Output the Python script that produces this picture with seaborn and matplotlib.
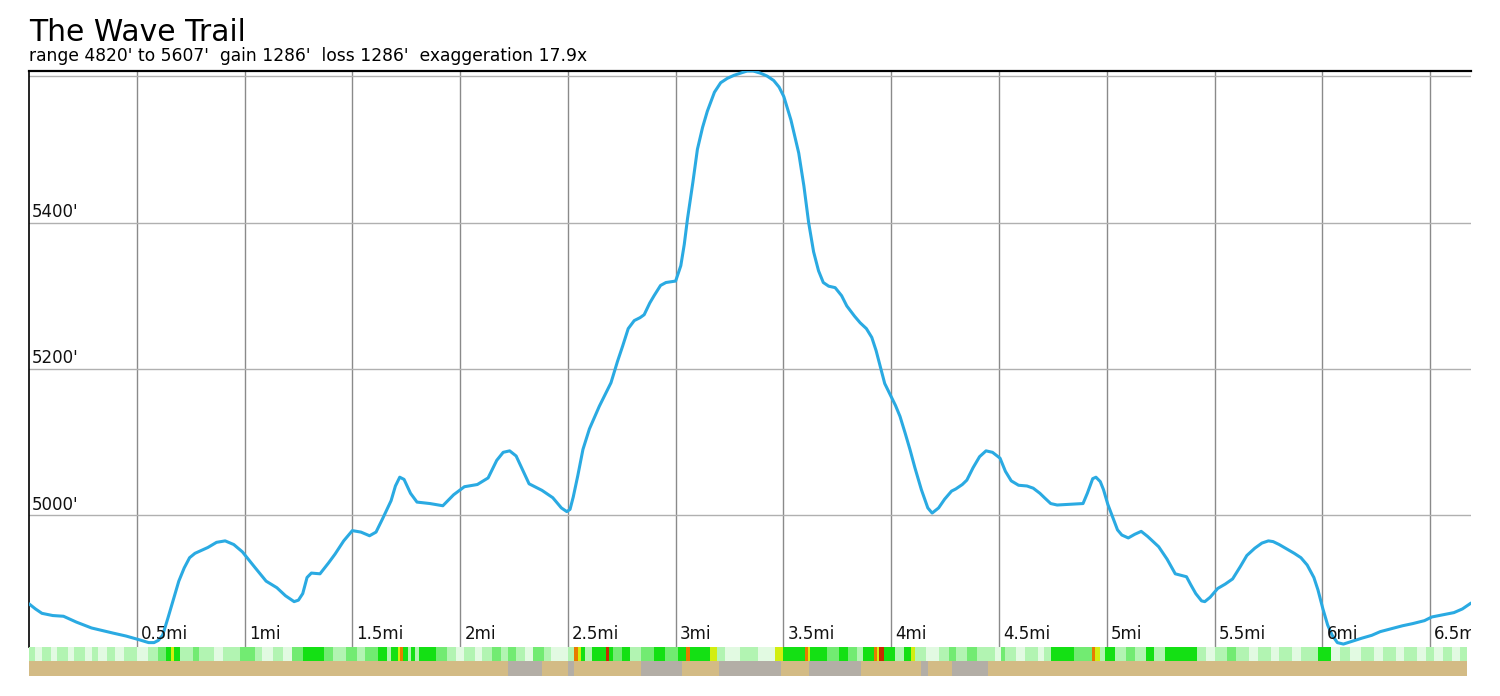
import numpy as np
import pandas as pd
import matplotlib
matplotlib.use("Agg")
import matplotlib.pyplot as plt
import matplotlib.transforms as mtransforms
import seaborn as sns

sns.set_style("white")
plt.rcParams['font.family'] = ['DejaVu Sans']

# elevation profile (miles, feet)
miles = [0.00, 0.03, 0.06, 0.11, 0.16, 0.22, 0.29, 0.39, 0.45, 0.51, 0.555, 0.58, 0.60,
         0.62, 0.645, 0.67, 0.695, 0.72, 0.745, 0.77, 0.80, 0.83, 0.87, 0.91, 0.95, 0.99,
         1.05, 1.10, 1.15, 1.19, 1.23, 1.25, 1.27, 1.29, 1.31, 1.35, 1.39, 1.42, 1.46,
         1.50, 1.54, 1.58, 1.61, 1.64, 1.68, 1.70, 1.72, 1.74, 1.77, 1.80, 1.86, 1.92,
         1.97, 2.02, 2.08, 2.13, 2.17, 2.20, 2.23, 2.26, 2.29, 2.32, 2.38, 2.43, 2.47,
         2.495, 2.51, 2.525, 2.546, 2.57, 2.60, 2.646, 2.70, 2.73, 2.754, 2.78, 2.808,
         2.835, 2.854, 2.88, 2.90, 2.93, 2.955, 3.00, 3.024, 3.04, 3.055, 3.08, 3.101,
         3.125, 3.147, 3.18, 3.209, 3.24, 3.27, 3.30, 3.332, 3.36, 3.394, 3.425, 3.455,
         3.48, 3.502, 3.535, 3.571, 3.595, 3.617, 3.64, 3.663, 3.685, 3.71, 3.74, 3.77,
         3.794, 3.83, 3.856, 3.885, 3.91, 3.93, 3.948, 3.97, 3.995, 4.02, 4.041, 4.065,
         4.087, 4.11, 4.14, 4.17, 4.19, 4.22, 4.248, 4.28, 4.30, 4.33, 4.351, 4.38,
         4.41, 4.44, 4.47, 4.505, 4.53, 4.557, 4.591, 4.63, 4.659, 4.69, 4.711, 4.74,
         4.77, 4.83, 4.89, 4.91, 4.935, 4.95, 4.97, 4.985, 5.005, 5.027, 5.05, 5.07,
         5.10, 5.13, 5.16, 5.19, 5.241, 5.28, 5.318, 5.345, 5.37, 5.39, 5.413, 5.44,
         5.455, 5.48, 5.515, 5.55, 5.584, 5.62, 5.65, 5.687, 5.72, 5.75, 5.772, 5.80,
         5.841, 5.87, 5.901, 5.93, 5.961, 5.98, 6.003, 6.025, 6.046, 6.07, 6.098, 6.14,
         6.183, 6.23, 6.269, 6.32, 6.372, 6.42, 6.474, 6.508, 6.56, 6.611, 6.65, 6.69]
elev = [4879, 4872, 4866, 4863, 4862, 4854, 4846, 4839, 4835, 4830, 4826, 4826, 4829,
        4836, 4860, 4885, 4910, 4928, 4942, 4948, 4952, 4956, 4963, 4965, 4960, 4950,
        4928, 4910, 4901, 4890, 4882, 4884, 4893, 4915, 4921, 4920, 4935, 4947, 4965,
        4979, 4977, 4972, 4977, 4995, 5020, 5040, 5052, 5049, 5030, 5018, 5016, 5013,
        5028, 5039, 5042, 5051, 5075, 5086, 5088, 5081, 5062, 5043, 5034, 5024, 5010,
        5005, 5008, 5025, 5054, 5090, 5118, 5149, 5181, 5210, 5231, 5255, 5266,
        5270, 5274, 5290, 5300, 5314, 5318, 5320, 5341, 5370, 5405, 5455, 5500,
        5530, 5552, 5578, 5591, 5597, 5601, 5604, 5607, 5607, 5604, 5600, 5594,
        5585, 5572, 5540, 5495, 5450, 5400, 5360, 5334, 5318, 5313, 5311, 5300,
        5286, 5272, 5263, 5255, 5243, 5225, 5205, 5180, 5165, 5150, 5135, 5112,
        5090, 5065, 5035, 5010, 5003, 5010, 5022, 5033, 5036, 5042, 5048, 5065,
        5080, 5088, 5086, 5078, 5060, 5047, 5041, 5040, 5037, 5030, 5024, 5016,
        5014, 5015, 5016, 5030, 5050, 5052, 5046, 5035, 5015, 4998, 4980, 4973,
        4969, 4974, 4978, 4971, 4957, 4940, 4920, 4918, 4916, 4905, 4893, 4883,
        4882, 4888, 4900, 4906, 4913, 4930, 4945, 4955, 4962, 4965, 4964, 4960,
        4953, 4948, 4942, 4932, 4915, 4898, 4872, 4850, 4836, 4826, 4824, 4828,
        4832, 4836, 4841, 4845, 4849, 4852, 4856, 4861, 4864, 4867, 4872, 4880]

# slope strip: run starts (miles) and grade level 0 (flat) .. 6 (steep)
slope_start = [0.00, 0.03, 0.06, 0.10, 0.13, 0.18, 0.21, 0.26, 0.29, 0.32, 0.36, 0.40,
               0.44, 0.50, 0.55, 0.60, 0.635, 0.66, 0.675, 0.70, 0.76, 0.79, 0.86, 0.90,
               0.98, 1.05, 1.08, 1.13, 1.18, 1.22, 1.27, 1.37, 1.41, 1.47, 1.52, 1.56,
               1.62, 1.66, 1.68, 1.71, 1.72, 1.735, 1.76, 1.77, 1.79, 1.81, 1.89, 1.94,
               1.98, 2.02, 2.07, 2.10, 2.15, 2.19, 2.22, 2.26, 2.30, 2.34, 2.39, 2.42,
               2.50, 2.53, 2.545, 2.56, 2.58, 2.61, 2.675, 2.69, 2.71, 2.75, 2.79, 2.84,
               2.90, 2.95, 3.01, 3.05, 3.065, 3.16, 3.19, 3.23, 3.30, 3.38, 3.46, 3.50,
               3.60, 3.615, 3.625, 3.70, 3.76, 3.80, 3.84, 3.87, 3.92, 3.935, 3.945,
               3.965, 4.02, 4.06, 4.09, 4.11, 4.16, 4.22, 4.27, 4.30, 4.35, 4.40, 4.48,
               4.51, 4.53, 4.58, 4.62, 4.68, 4.71, 4.74, 4.85, 4.93, 4.945, 4.97, 4.99,
               5.04, 5.09, 5.13, 5.18, 5.22, 5.27, 5.42, 5.46, 5.50, 5.56, 5.60, 5.66,
               5.70, 5.76, 5.80, 5.86, 5.90, 5.98, 6.04, 6.08, 6.13, 6.18, 6.24, 6.28,
               6.34, 6.38, 6.44, 6.48, 6.52, 6.56, 6.60, 6.64]
slope_level = [1, 0, 1, 0, 1, 0, 1, 0, 1, 0, 1, 0,
               1, 0, 1, 2, 3, 4, 3, 1, 2, 1, 0, 1,
               2, 1, 0, 1, 0, 2, 3, 2, 1, 2, 1, 2,
               3, 1, 3, 4, 5, 3, 1, 3, 1, 3, 2, 1,
               0, 1, 0, 1, 2, 1, 2, 1, 0, 2, 1, 0,
               1, 5, 4, 3, 1, 3, 6, 3, 2, 3, 1, 2,
               3, 2, 3, 5, 3, 4, 1, 0, 1, 0, 4, 3,
               5, 4, 3, 2, 3, 2, 1, 3, 5, 4, 6,
               3, 1, 3, 4, 1, 0, 1, 2, 1, 2, 1, 0,
               2, 1, 0, 1, 0, 1, 3, 2, 5, 4, 1, 3,
               1, 2, 1, 3, 1, 3, 1, 0, 1, 2, 1, 0,
               1, 0, 1, 0, 1, 3, 0, 1, 0, 1, 0, 1,
               0, 1, 0, 1, 0, 1, 0, 1]
strip_end = 6.67
level_colors = ['#e2fae2', '#b2f4b2', '#72eb72', '#14e014', '#d2ee10', '#e87a00', '#c82a00']

# surface strip
surface_start = [0.00, 2.22, 2.38, 2.50, 2.53, 2.84, 3.03, 3.20, 3.49, 3.62, 3.86, 4.14,
                 4.17, 4.28, 4.45]
surface_kind = ['dirt', 'rock', 'dirt', 'rock', 'dirt', 'rock', 'dirt', 'rock', 'dirt',
                'rock', 'dirt', 'rock', 'dirt', 'rock', 'dirt']
surface_colors = {'dirt': '#d3bb85', 'rock': '#b3aea6'}

x_ticks = [0.5, 1, 1.5, 2, 2.5, 3, 3.5, 4, 4.5, 5, 5.5, 6, 6.5]
x_labels = ['0.5mi', '1mi', '1.5mi', '2mi', '2.5mi', '3mi', '3.5mi', '4mi',
            '4.5mi', '5mi', '5.5mi', '6mi', '6.5mi']
y_grid = [5000, 5200, 5400, 5600]
y_labels = ["5000'", "5200'", "5400'", ""]

W, H = 1500, 696
fig = plt.figure(figsize=(W / 100, H / 100), dpi=100)
ax = fig.add_axes([29 / W, 1 - 647 / H, 1442 / W, 576 / H])

df = pd.DataFrame({'mi': miles, 'ft': elev})
sns.lineplot(data=df, x='mi', y='ft', ax=ax, color='#2aaae2', lw=2.2, sort=False,
             zorder=3, solid_joinstyle='round', solid_capstyle='round')
ax.set_xlim(0, 6.69)
ax.set_ylim(4820, 5607)
ax.set_xlabel('')
ax.set_ylabel('')
ax.set_xticks([])
ax.set_yticks([])
for s in ['right', 'bottom']:
    ax.spines[s].set_visible(False)
ax.spines['left'].set_color('black')
ax.spines['left'].set_linewidth(1.2)
ax.spines['top'].set_color('black')
ax.spines['top'].set_linewidth(1.6)

xlab_tr = mtransforms.offset_copy(ax.transData, fig=fig, x=3, y=6, units='points')
for v, lab in zip(x_ticks, x_labels):
    ax.axvline(v, color='#8a8a8a', lw=1, zorder=1)
    ax.text(v, 4820, lab, transform=xlab_tr, fontsize=12, color='#111111',
            va='baseline', ha='left', clip_on=True)
ylab_tr = mtransforms.offset_copy(ax.transData, fig=fig, x=2, y=4, units='points')
for h, lab in zip(y_grid, y_labels):
    ax.axhline(h, color='#b0b0b0', lw=1, zorder=1)
    if lab:
        ax.text(0, h, lab, transform=ylab_tr, fontsize=12, color='#111111',
                va='baseline', ha='left')

# slope strip
ax_s = fig.add_axes([29 / W, 1 - 661 / H, 1442 / W, 14 / H])
ends = slope_start[1:] + [strip_end]
ax_s.bar(slope_start, 1, width=np.array(ends) - np.array(slope_start), align='edge',
         color=[level_colors[l] for l in slope_level], lw=0)
ax_s.set_xlim(0, 6.69)
ax_s.set_ylim(0, 1)
ax_s.axis('off')

# surface strip
ax_t = fig.add_axes([29 / W, 1 - 676 / H, 1442 / W, 15 / H])
ends = surface_start[1:] + [strip_end]
ax_t.bar(surface_start, 1, width=np.array(ends) - np.array(surface_start), align='edge',
         color=[surface_colors[k] for k in surface_kind], lw=0)
ax_t.set_xlim(0, 6.69)
ax_t.set_ylim(0, 1)
ax_t.axis('off')

fig.text(29 / W, 1 - 41 / H, 'The Wave Trail', fontsize=21.4, color='black',
         va='baseline', ha='left')
fig.text(29 / W, 1 - 61 / H,
         "range 4820' to 5607'  gain 1286'  loss 1286'  exaggeration 17.9x",
         fontsize=12.3, color='black', va='baseline', ha='left')

fig.savefig('out.png', dpi=100)
